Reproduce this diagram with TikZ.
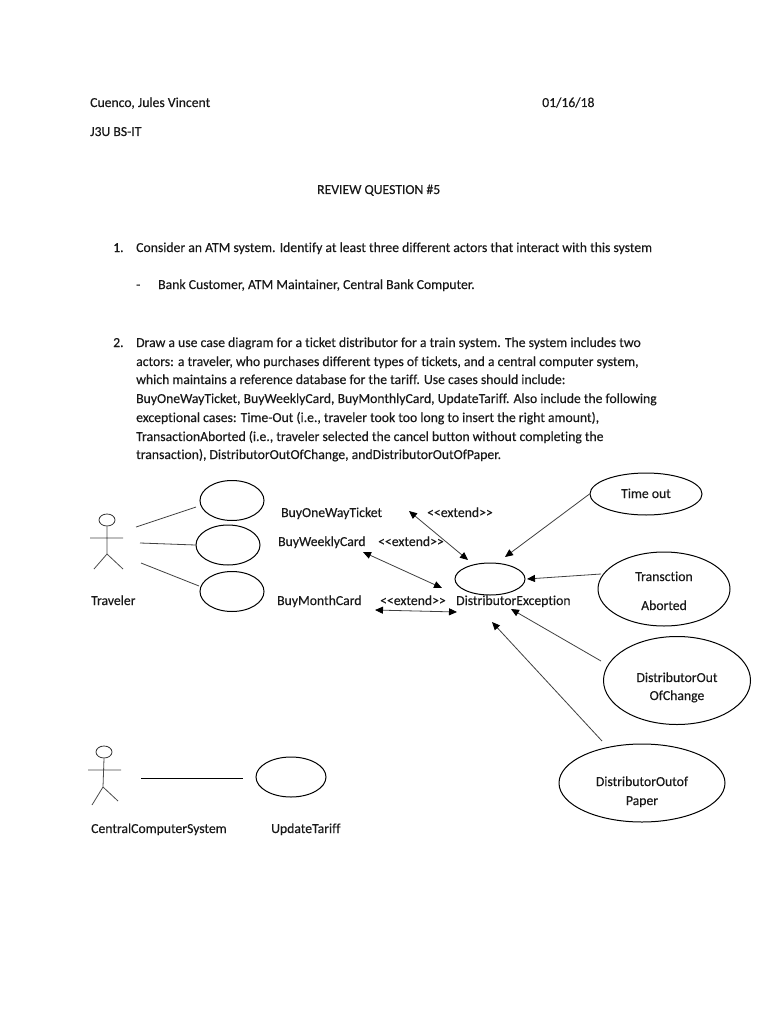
\documentclass[tikz,border=0pt]{standalone}
\usepackage{fontspec}
\setmainfont[Ligatures=NoCommon,FakeBold=0.25]{Carlito}
\usetikzlibrary{arrows.meta,shapes.geometric}
\tikzset{
 x=1pt,y=-1pt,
 txt/.style={anchor=base west,inner sep=0pt,font=\fontsize{13.7}{16}\selectfont,text=black!90},
 ctxt/.style={anchor=base,inner sep=0pt,font=\fontsize{13.7}{16}\selectfont,text=black!90},
 uc/.style={ellipse,draw=black,line width=1pt,inner sep=0pt,minimum width=#1},
 lnk/.style={draw=black!75,line width=0.8pt},
 dbl/.style={lnk,{Triangle[length=8pt,width=7pt,black]}-{Triangle[length=8pt,width=7pt,black]}},
 sgl/.style={lnk,-{Triangle[length=8pt,width=7pt,black]}},
 limb/.style={draw=black!70,line width=0.8pt},
}
\begin{document}
\begin{tikzpicture}
\useasboundingbox (0,0) rectangle (768,1024);
\fill[white] (0,0) rectangle (768,1024);
% header text
\node[txt] (t1) at (90,107) {Cuenco, Jules Vincent};
\node[txt] (t2) at (542,107) {01/16/18};
\node[txt] (t3) at (90,136) {J3U BS-IT};
\node[txt] (t4) at (317,194) {REVIEW QUESTION \#5};
\node[txt] (t5) at (113,252) {1.};
\node[txt] (t6) at (136,252) {Consider an ATM system. Identify at least three different actors that interact with this system};
\node[txt] (t7) at (136,289) {-};
\node[txt] (t8) at (158,289) {Bank Customer, ATM Maintainer, Central Bank Computer.};
\node[txt] (t9) at (113,347) {2.};
\node[txt] (p1) at (136,347) {Draw a use case diagram for a ticket distributor for a train system. The system includes two};
\node[txt] (p2) at (136,366) {actors: a traveler, who purchases different types of tickets, and a central computer system,};
\node[txt] (p3) at (136,384) {which maintains a reference database for the tariff. Use cases should include:};
\node[txt] (p4) at (136,403) {BuyOneWayTicket, BuyWeeklyCard, BuyMonthlyCard, UpdateTariff. Also include the following};
\node[txt] (p5) at (136,422) {exceptional cases: Time-Out (i.e., traveler took too long to insert the right amount),};
\node[txt] (p6) at (136,441) {TransactionAborted (i.e., traveler selected the cancel button without completing the};
\node[txt] (p7) at (136,459) {transaction), DistributorOutOfChange, andDistributorOutOfPaper.};
% traveler actor
\node[ellipse,draw=black!80,line width=0.8pt,minimum width=16pt,minimum height=12pt,inner sep=0pt] (head1) at (107,520) {};
\coordinate (hip1) at (107,554);
\coordinate (armL1) at (90,538);
\coordinate (armR1) at (123,538);
\coordinate (footL1) at (94,569);
\coordinate (footR1) at (123,569);
\draw[limb] (head1.south) -- (hip1) (armL1) -- (armR1) (footL1) -- (hip1) -- (footR1);
\node[txt] (traveler) at (91,605) {Traveler};
% traveler use cases
\node[uc=64pt,minimum height=40pt] (one) at (232,500.5) {};
\node[uc=64pt,minimum height=40pt] (week) at (228,545) {};
\node[uc=64pt,minimum height=40pt] (month) at (232,591.5) {};
\coordinate (a1) at (136,527);
\coordinate (a2) at (140,543);
\coordinate (a3) at (141,563);
\coordinate (e1) at (196,507);
\coordinate (e3) at (199,586);
\draw[lnk] (a1) -- (e1);
\draw[lnk] (a2) -- (week.west);
\draw[lnk] (a3) -- (e3);
\node[txt] (l1) at (281,517) {BuyOneWayTicket};
\node[txt] (l2) at (278,546) {BuyWeeklyCard};
\node[txt] (l3) at (277,605) {BuyMonthCard};
\node[txt] (x1) at (427,517) {<{}<extend>{}>};
\node[txt] (x2) at (378,546) {<{}<extend>{}>};
\node[txt] (x3) at (380,605) {<{}<extend>{}>};
% distributor exception
\node[uc=70pt,minimum height=32pt] (dist) at (490,579) {};
\node[txt] (distl) at (456,605) {DistributorException};
\coordinate (s1) at (409,511);
\coordinate (d1) at (468,560);
\coordinate (s2) at (363,552);
\coordinate (d2) at (442,588);
\coordinate (s3) at (375,610);
\coordinate (d3) at (457,612);
\draw[dbl] (s1) -- (d1);
\draw[dbl] (s2) -- (d2);
\draw[dbl] (s3) -- (d3);
% exceptions
\node[uc=112pt,minimum height=42pt] (timeout) at (646,494) {};
\node[ctxt] (to1) at (646,498) {Time out};
\node[uc=132pt,minimum height=74pt] (abort) at (664,589) {};
\node[ctxt] (ab1) at (664,581) {Transction};
\node[ctxt] (ab2) at (664,610) {Aborted};
\node[uc=147pt,minimum height=88pt] (change) at (677,680.5) {};
\node[ctxt] (ch1) at (677,682) {DistributorOut};
\node[ctxt] (ch2) at (677,700) {OfChange};
\node[uc=166pt,minimum height=78pt] (paper) at (642,783) {};
\node[ctxt] (pa1) at (642,786) {DistributorOutof};
\node[ctxt] (pa2) at (642,805) {Paper};
\coordinate (t0) at (505,557);
\coordinate (ab0) at (527,579);
\coordinate (ch0) at (511,609);
\coordinate (pa0) at (492,622);
\coordinate (cs) at (601,661);
\coordinate (ps) at (602,741);
\coordinate (as) at (601,574);
\draw[sgl] (timeout.west) -- (t0);
\draw[sgl] (as) -- (ab0);
\draw[sgl] (cs) -- (ch0);
\draw[sgl] (ps) -- (pa0);
% central computer actor
\node[ellipse,draw=black!80,line width=0.8pt,minimum width=16pt,minimum height=12pt,inner sep=0pt] (head2) at (104,752) {};
\coordinate (hip2) at (103,787);
\coordinate (armL2) at (88,770);
\coordinate (armR2) at (121,770);
\coordinate (footL2) at (92,805);
\coordinate (footR2) at (118,801);
\draw[limb] (head2.south) -- (hip2) (armL2) -- (armR2) (footL2) -- (hip2) -- (footR2);
\node[txt] (ccs) at (91,833) {CentralComputerSystem};
\node[uc=70pt,minimum height=40pt] (upd) at (291,777) {};
\node[txt] (updl) at (271,833) {UpdateTariff};
\coordinate (a4) at (141,778);
\coordinate (e4) at (243,778);
\draw[draw=black,line width=1pt] (a4) -- (e4);
\end{tikzpicture}
\end{document}
